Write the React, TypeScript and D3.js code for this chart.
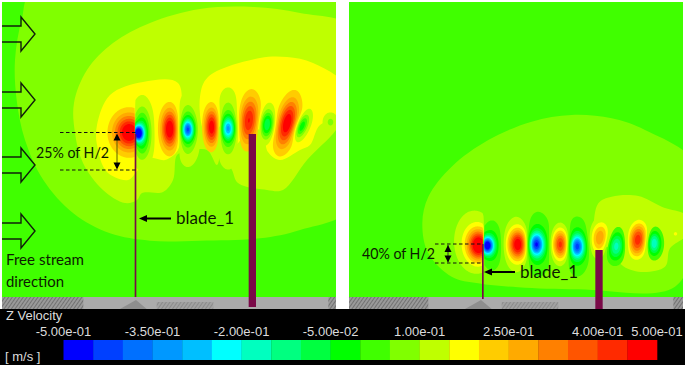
import React, { useMemo } from "react";
import * as d3 from "d3";

// Colour bands of the legend, lowest to highest (-0.5 .. 0.5 m/s, 0.05 per band)
const bandColors = ["#0000ff","#0040ff","#0070ff","#0098ff","#00bfff","#00ffff","#00ffbf","#00ff80","#00ff40","#00ff00","#40ff00","#80ff00","#bfff00","#ffff00","#ffcc00","#ffaa00","#ff8000","#ff5500","#ff2a00","#ff0000"];
const legendTicks = [-0.5,-0.35,-0.2,-0.05,0.1,0.25,0.4,0.5];
const legendLabels = ["-5.00e-01","-3.50e-01","-2.00e-01","-5.00e-02","1.00e-01","2.50e-01","4.00e-01","5.00e-01"];

// Broad regions, [band index, outline points]
type Reg = { band: number; pts: number[][] };
const leftRegions: Reg[] = [
  { band: 11, pts: [[100,-30],[65,60],[45,180],[50,300],[75,420],[130,540],[220,640],[330,700],[450,722],[600,722],[780,715],[900,690],[1060,620],[1090,300],[1060,-40]] },
  { band: 12, pts: [[1060,84],[900,39],[759,21],[600,27],[450,69],[339,129],[261,210],[222,309],[225,399],[249,489],[309,570],[375,609],[411,600],[426,579],[489,576],[519,540],[531,465],[558,456],[621,450],[651,495],[666,450],[696,510],[714,549],[801,570],[849,570],[921,480],[1008,390],[1060,300]] },
  { band: 13, pts: [[291,375],[330,285],[429,246],[534,249],[540,375],[534,450],[495,480],[450,474],[414,510],[384,540],[321,516],[291,435]] },
  { band: 13, pts: [[600,290],[624,231],[780,174],[861,171],[939,189],[1035,255],[1035,345],[960,375],[930,435],[900,450],[840,480],[804,456],[786,390],[735,405],[705,435],[666,375],[630,420],[609,390]] },
];
const rightRegions: Reg[] = [
  { band: 11, pts: [[1050,490],[900,390],[800,355],[680,345],[560,365],[430,420],[320,500],[250,590],[232,670],[250,760],[320,830],[400,850],[520,862],[700,868],[990,860],[1050,700]] },
  { band: 12, pts: [[745,690],[760,610],[800,590],[880,588],[950,620],[1030,650],[1030,700],[975,745],[960,800],[880,815],[825,790],[815,740],[745,745]] },
];

// Vortices: x, y, amplitude, sigma x, sigma y, tilt (deg), min x, max x
const leftVortices = [
  [386,396,0.37,30,35,0,-1e4,403],
  [412,398,-0.62,11,16,0,403,1e4],
  [425,398,-0.26,17,48,0,403,1e4],
  [508,386,0.36,17,38,0,-1e4,1e4],
  [562,387,-0.4,12,20,0,-1e4,1e4],
  [562,387,-0.19,19,50,0,-1e4,1e4],
  [634,380,0.34,15,36,0,-1e4,1e4],
  [683,384,-0.32,13,22,0,-1e4,1e4],
  [683,384,-0.17,20,56,0,-1e4,1e4],
  [745,360,0.29,19,46,6,-1e4,1e4],
  [800,372,-0.27,14,28,6,-1e4,1e4],
  [860,368,0.34,19,48,14,-1e4,1e4],
  [903,378,-0.22,11,26,25,-1e4,1e4],
  [990,365,-0.08,13,16,0,-1e4,1e4],
];
const rightVortices = [
  [400,735,0.42,22,30,0,-1e4,414],
  [385,720,0.08,38,58,0,-1e4,414],
  [425,735,-0.55,13,18,0,414,1e4],
  [440,735,-0.11,20,44,0,414,1e4],
  [518,732,0.4,20,30,0,-1e4,1e4],
  [518,732,0.05,27,62,0,-1e4,1e4],
  [572,732,-0.45,16,24,0,-1e4,1e4],
  [575,732,-0.11,28,58,0,-1e4,1e4],
  [645,732,0.36,17,30,0,-1e4,1e4],
  [695,738,-0.42,15,24,0,-1e4,1e4],
  [695,738,-0.09,25,56,0,-1e4,1e4],
  [763,712,0.22,19,32,8,-1e4,1e4],
  [812,737,-0.25,17,28,6,-1e4,1e4],
  [877,718,0.36,19,34,6,-1e4,1e4],
  [925,728,-0.28,14,24,0,-1e4,1e4],
  [990,700,0.11,6,6,0,-1e4,1e4],
];

const arrowCentres = [34,100,165,231];
const leftBlades = [[404,409,134,297],[746,768,134,307]];
const rightBlades = [[411,416,244,299],[751,773,250,309]];

const W = 685, H = 365;
const P = { top: 2, ground: 297, black: 309 };

function Panel({ x0, x1, sx0, sx1, regions, vortices, base, id }: any) {
  const xs = d3.scaleLinear().domain(sx0).range(sx1);
  const ys = d3.scaleLinear().domain([0, 930]).range([0, 310]);
  const w = x1 - x0, h = P.ground - P.top;
  const shapes = useMemo(() => {
    const vals = new Float64Array(w * h);
    const rot = vortices.map((v: number[]) => [Math.cos((v[5] * Math.PI) / 180), Math.sin((v[5] * Math.PI) / 180)]);
    for (let j = 0; j < h; j++) for (let i = 0; i < w; i++) {
      const zx = xs.invert(i + x0), zy = ys.invert(j + P.top);
      let s = base;
      vortices.forEach((v: number[], k: number) => {
        if (zx < v[6] || zx > v[7]) return;
        const dx = zx - v[0], dy = zy - v[1];
        const [c, sn] = rot[k];
        const a = (dx * c + dy * sn) / v[3], b = (-dx * sn + dy * c) / v[4];
        s += v[2] * Math.exp(-0.5 * (a * a + b * b));
      });
      vals[j * w + i] = s;
    }
    const path = d3.geoPath();
    const up: number[] = d3.range(-0.5 + 0.05, 0.5, 0.05).map((t) => +t.toFixed(2)).filter((t) => t > base);
    const dn: number[] = d3.range(-0.5 + 0.05, 0.5, 0.05).map((t) => +t.toFixed(2)).filter((t) => t < base).reverse();
    const upC = d3.contours().size([w, h]).thresholds(up)(Array.from(vals));
    const dnC = d3.contours().size([w, h]).thresholds(dn.map((t) => -t))(Array.from(vals, (v) => -v));
    const idx = (low: number) => Math.min(19, Math.max(0, Math.floor((low + 0.5) / 0.05 + 1e-6)));
    return [
      ...upC.map((c) => ({ d: path(c) as string, f: bandColors[idx(c.value)] })),
      ...dnC.map((c) => ({ d: path(c) as string, f: bandColors[idx(-c.value - 0.05)] })),
    ];
  }, []);
  const line = d3.line().x((p: any) => xs(p[0])).y((p: any) => ys(p[1])).curve(d3.curveCatmullRomClosed.alpha(0.5));
  return (
    <g>
      <clipPath id={id}><rect x={x0} y={P.top} width={w} height={h} /></clipPath>
      <rect x={x0} y={P.top} width={w} height={h} fill={bandColors[10]} />
      <g clipPath={`url(#${id})`}>
        {regions.map((r: Reg, i: number) => <path key={i} d={line(r.pts as any) as string} fill={bandColors[r.band]} />)}
        <g transform={`translate(${x0},${P.top})`}>
          {shapes.map((s, i) => <path key={i} d={s.d} fill={s.f} />)}
        </g>
      </g>
      <rect x={x0} y={P.ground} width={w} height={P.black - P.ground} fill="#ababab" />
      <rect x={x0} y={P.ground} width={xs(250) - x0} height={P.black - P.ground} fill="url(#mesh)" />
      <rect x={xs(985)} y={P.ground} width={x1 - xs(985)} height={P.black - P.ground} fill="url(#mesh)" />
      <rect x={xs(470)} y={P.ground + 5} width={xs(640) - xs(470)} height={7} fill="url(#mesh)" opacity={0.55} />
      <path d={`M${xs(360)},${P.black} L${xs(408)},${P.ground + 3} L${xs(440)},${P.black} Z`} fill="#8e8e8e" />
    </g>
  );
}

function Head({ x, y, dir }: { x: number; y: number; dir: number }) {
  return <path d={`M${x},${y} L${x - 3.5},${y - dir * 7} L${x + 3.5},${y - dir * 7} Z`} fill="#000" />;
}

export default function App() {
  const leg = d3.scaleLinear().domain([-0.5, 0.5]).range([63.5, 657]);
  const bandEdges = d3.range(0, 20).map((i) => -0.5 + i * 0.05);
  const sans = "Lato,'Open Sans',sans-serif";
  const arial = "'Liberation Sans',Arial,sans-serif";
  const lxs = d3.scaleLinear().domain([0, 1035]).range([0, 345]);
  const rxs = d3.scaleLinear().domain([0, 1020]).range([345, 685]);
  return (
    <svg width={W} height={H} viewBox={`0 0 ${W} ${H}`} style={{ position: "fixed", left: 0, top: 0, background: "#fff", display: "block" }}>
      <defs>
        <pattern id="mesh" width="3" height="3" patternUnits="userSpaceOnUse" patternTransform="rotate(35)">
          <rect width="3" height="3" fill="#9a9a9a" />
          <line x1="0" y1="0" x2="0" y2="3" stroke="#4a4a4a" strokeWidth="1" />
        </pattern>
      </defs>
      <Panel id="cl" x0={2} x1={336} sx0={[0, 1035]} sx1={[0, 345]} regions={leftRegions} vortices={leftVortices} base={0.165} />
      <Panel id="cr" x0={349} x1={683} sx0={[0, 1020]} sx1={[345, 685]} regions={rightRegions} vortices={rightVortices} base={0.075} />

      {leftBlades.map((b, i) => <rect key={i} x={lxs(b[0])} y={b[2]} width={lxs(b[1]) - lxs(b[0])} height={b[3] - b[2]} fill="#7a0a48" />)}
      {rightBlades.map((b, i) => <rect key={i} x={rxs(b[0])} y={b[2]} width={rxs(b[1]) - rxs(b[0])} height={b[3] - b[2]} fill="#7a0a48" />)}

      {arrowCentres.map((c) => (
        <path key={c} d={`M2,${c - 8} H21 V${c - 17} L35,${c} L21,${c + 17} V${c + 8} H2`} fill="none" stroke="#10200a" strokeWidth={1.4} />
      ))}

      <g stroke="#111" strokeWidth={1} strokeDasharray="3.5 2.5">
        <line x1={60} x2={137} y1={132.5} y2={132.5} />
        <line x1={60} x2={137} y1={170} y2={170} />
        <line x1={435} x2={481} y1={244} y2={244} />
        <line x1={435} x2={481} y1={263} y2={263} />
      </g>
      <line x1={117} x2={117} y1={135} y2={168} stroke="#5a6000" strokeWidth={1} />
      <Head x={117} y={133.5} dir={-1} /><Head x={117} y={169.5} dir={1} />
      <line x1={448} x2={448} y1={245} y2={262} stroke="#333" strokeWidth={1} />
      <Head x={448} y={245} dir={-1} /><Head x={448} y={262.5} dir={1} />

      <line x1={171} x2={146} y1={218.5} y2={218.5} stroke="#000" strokeWidth={2} />
      <path d="M139,218.5 L147,215 L147,222 Z" fill="#000" />
      <line x1={515} x2={491} y1={272} y2={272} stroke="#000" strokeWidth={2} />
      <path d="M484,272 L492,268.5 L492,275.5 Z" fill="#000" />

      <g fontFamily={sans} fill="#0c1c00" fontSize={16}>
        <text x={36} y={158} textLength={73} lengthAdjust="spacingAndGlyphs">25% of H/2</text>
        <text x={362} y={259} textLength={73} lengthAdjust="spacingAndGlyphs">40% of H/2</text>
        <text x={176} y={224} fontSize={18} textLength={58} lengthAdjust="spacingAndGlyphs">blade_1</text>
        <text x={520} y={278} fontSize={18} textLength={58} lengthAdjust="spacingAndGlyphs">blade_1</text>
        <text x={6} y={265} textLength={78} lengthAdjust="spacingAndGlyphs">Free stream</text>
        <text x={6} y={287} textLength={58} lengthAdjust="spacingAndGlyphs">direction</text>
      </g>

      <rect x={0} y={P.black} width={W} height={H - P.black} fill="#000" />
      {bandEdges.map((e, i) => (
        <rect key={i} x={leg(e)} y={340} width={leg(e + 0.05) - leg(e) + 0.3} height={20} fill={bandColors[i]} />
      ))}
      <g fontFamily={arial} fill="#dcdcdc" fontSize={13}>
        <text x={6} y={320}>Z Velocity</text>
        <text x={5} y={361}>[ m/s ]</text>
        {legendTicks.map((t, i) => (
          <text key={t} x={leg(t)} y={336} textAnchor="middle">{legendLabels[i]}</text>
        ))}
      </g>
    </svg>
  );
}
